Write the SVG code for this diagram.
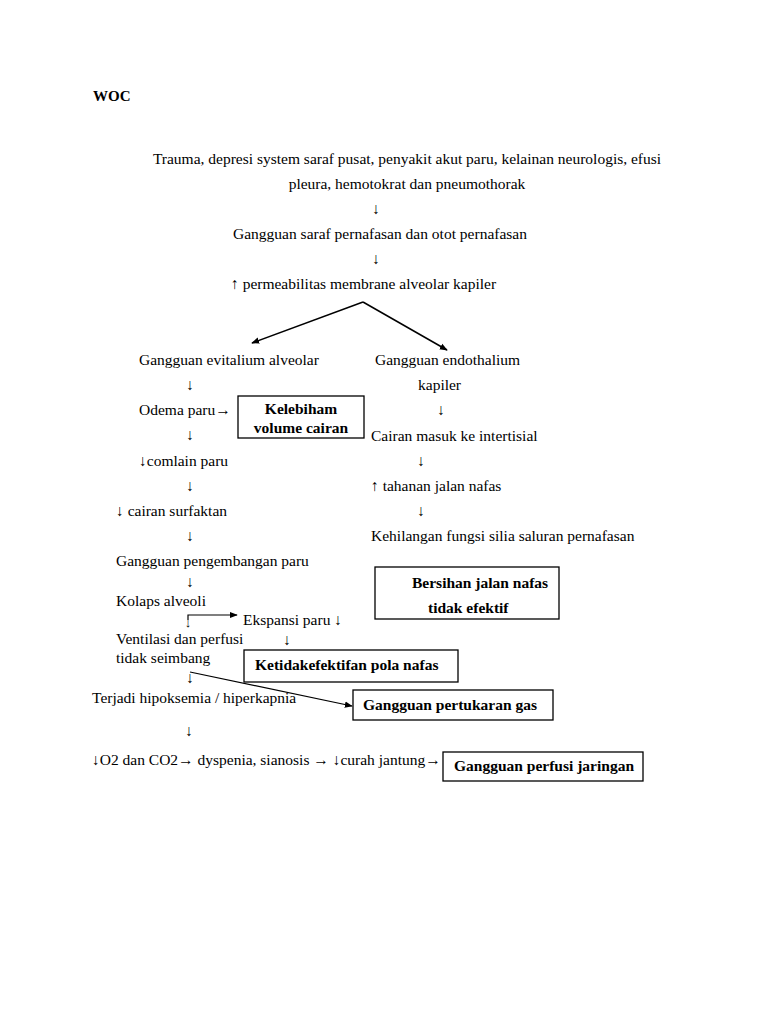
<svg xmlns="http://www.w3.org/2000/svg" width="768" height="1024" viewBox="0 0 768 1024">
<style>
text{font-family:"Liberation Serif","Times New Roman",serif;font-size:15.5px;fill:#000}
.b{font-weight:bold}
.m{text-anchor:middle}
.box{fill:#fff;stroke:#000;stroke-width:1.3}
.ln{fill:none;stroke:#000;stroke-width:1.5}
</style>
<defs>
<marker id="ah" viewBox="0 0 10 10" refX="9" refY="5" markerWidth="8" markerHeight="8" orient="auto" markerUnits="userSpaceOnUse">
<path d="M0,1 L10,5 L0,9 z" fill="#000"/>
</marker>
</defs>
<rect width="768" height="1024" fill="#fff"/>
<text x="93" y="101" class="b" style="font-size:15px">WOC</text>

<g id="n-cause">
<text x="407" y="164" class="m">Trauma, depresi system saraf pusat, penyakit akut paru, kelainan neurologis, efusi</text>
<text x="407" y="189" class="m">pleura, hemotokrat dan pneumothorak</text>
<text x="376" y="214" class="m">↓</text>
</g>
<g id="n-saraf">
<text x="380" y="239" class="m">Gangguan saraf pernafasan dan otot pernafasan</text>
<text x="376" y="264" class="m">↓</text>
</g>
<g id="n-permeabilitas">
<text x="231" y="289">↑ permeabilitas membrane alveolar kapiler</text>
</g>

<g id="n-evitalium">
<text x="139" y="365">Gangguan evitalium alveolar</text>
<text x="190" y="390" class="m">↓</text>
<text x="139" y="415">Odema paru→</text>
<text x="190" y="440" class="m">↓</text>
<text x="139" y="466">↓comlain paru</text>
<text x="190" y="491" class="m">↓</text>
<text x="116" y="516">↓ cairan surfaktan</text>
<text x="190" y="541" class="m">↓</text>
<text x="116" y="566">Gangguan pengembangan paru</text>
<text x="190" y="587" class="m">↓</text>
<text x="116" y="606">Kolaps alveoli</text>
<text x="188" y="627" class="m" style="font-size:13px">↓</text>
<text x="243" y="625">Ekspansi paru ↓</text>
<text x="116" y="644">Ventilasi dan perfusi</text>
<text x="287" y="645" class="m">↓</text>
<text x="116" y="663">tidak seimbang</text>
<text x="190" y="683" class="m">↓</text>
<text x="92" y="703">Terjadi hipoksemia / hiperkapnia</text>
<text x="189" y="736" class="m">↓</text>
<text x="92" y="765">↓O2 dan CO2→ dyspenia, sianosis → ↓curah jantung→</text>
</g>

<g id="n-endothalium">
<text x="375" y="365">Gangguan endothalium</text>
<text x="418" y="390">kapiler</text>
<text x="441" y="415" class="m">↓</text>
<text x="371" y="441">Cairan masuk ke intertisial</text>
<text x="421" y="466" class="m">↓</text>
<text x="371" y="491">↑ tahanan jalan nafas</text>
<text x="421" y="516" class="m">↓</text>
<text x="371" y="541">Kehilangan fungsi silia saluran pernafasan</text>
</g>

<g id="n-kelebiham">
<rect class="box" x="238" y="396" width="126" height="42"/>
<text x="301" y="414" class="b m">Kelebiham</text>
<text x="301" y="433" class="b m">volume cairan</text>
</g>
<g id="n-bersihan">
<rect class="box" x="375" y="567" width="184" height="52"/>
<text x="412" y="588" class="b">Bersihan jalan nafas</text>
<text x="428" y="613" class="b">tidak efektif</text>
</g>
<g id="n-pola">
<rect class="box" x="244" y="650" width="214" height="32"/>
<text x="255" y="670" class="b">Ketidakefektifan pola nafas</text>
</g>
<g id="n-gas">
<rect class="box" x="353" y="690" width="200" height="30"/>
<text x="363" y="710" class="b">Gangguan pertukaran gas</text>
</g>
<g id="n-perfusi">
<rect class="box" x="443" y="752" width="200" height="29"/>
<text x="454" y="771" class="b">Gangguan perfusi jaringan</text>
</g>

<g id="connectors">
<line class="ln" x1="363" y1="302" x2="252" y2="343" marker-end="url(#ah)"/>
<line class="ln" x1="363" y1="302" x2="447" y2="350" marker-end="url(#ah)"/>
<path class="ln" d="M188,620 V615 H237" marker-end="url(#ah)" style="stroke-width:1.2"/>
<line class="ln" x1="190" y1="672" x2="352" y2="706" marker-end="url(#ah)" style="stroke-width:1.2"/>
</g>
</svg>
